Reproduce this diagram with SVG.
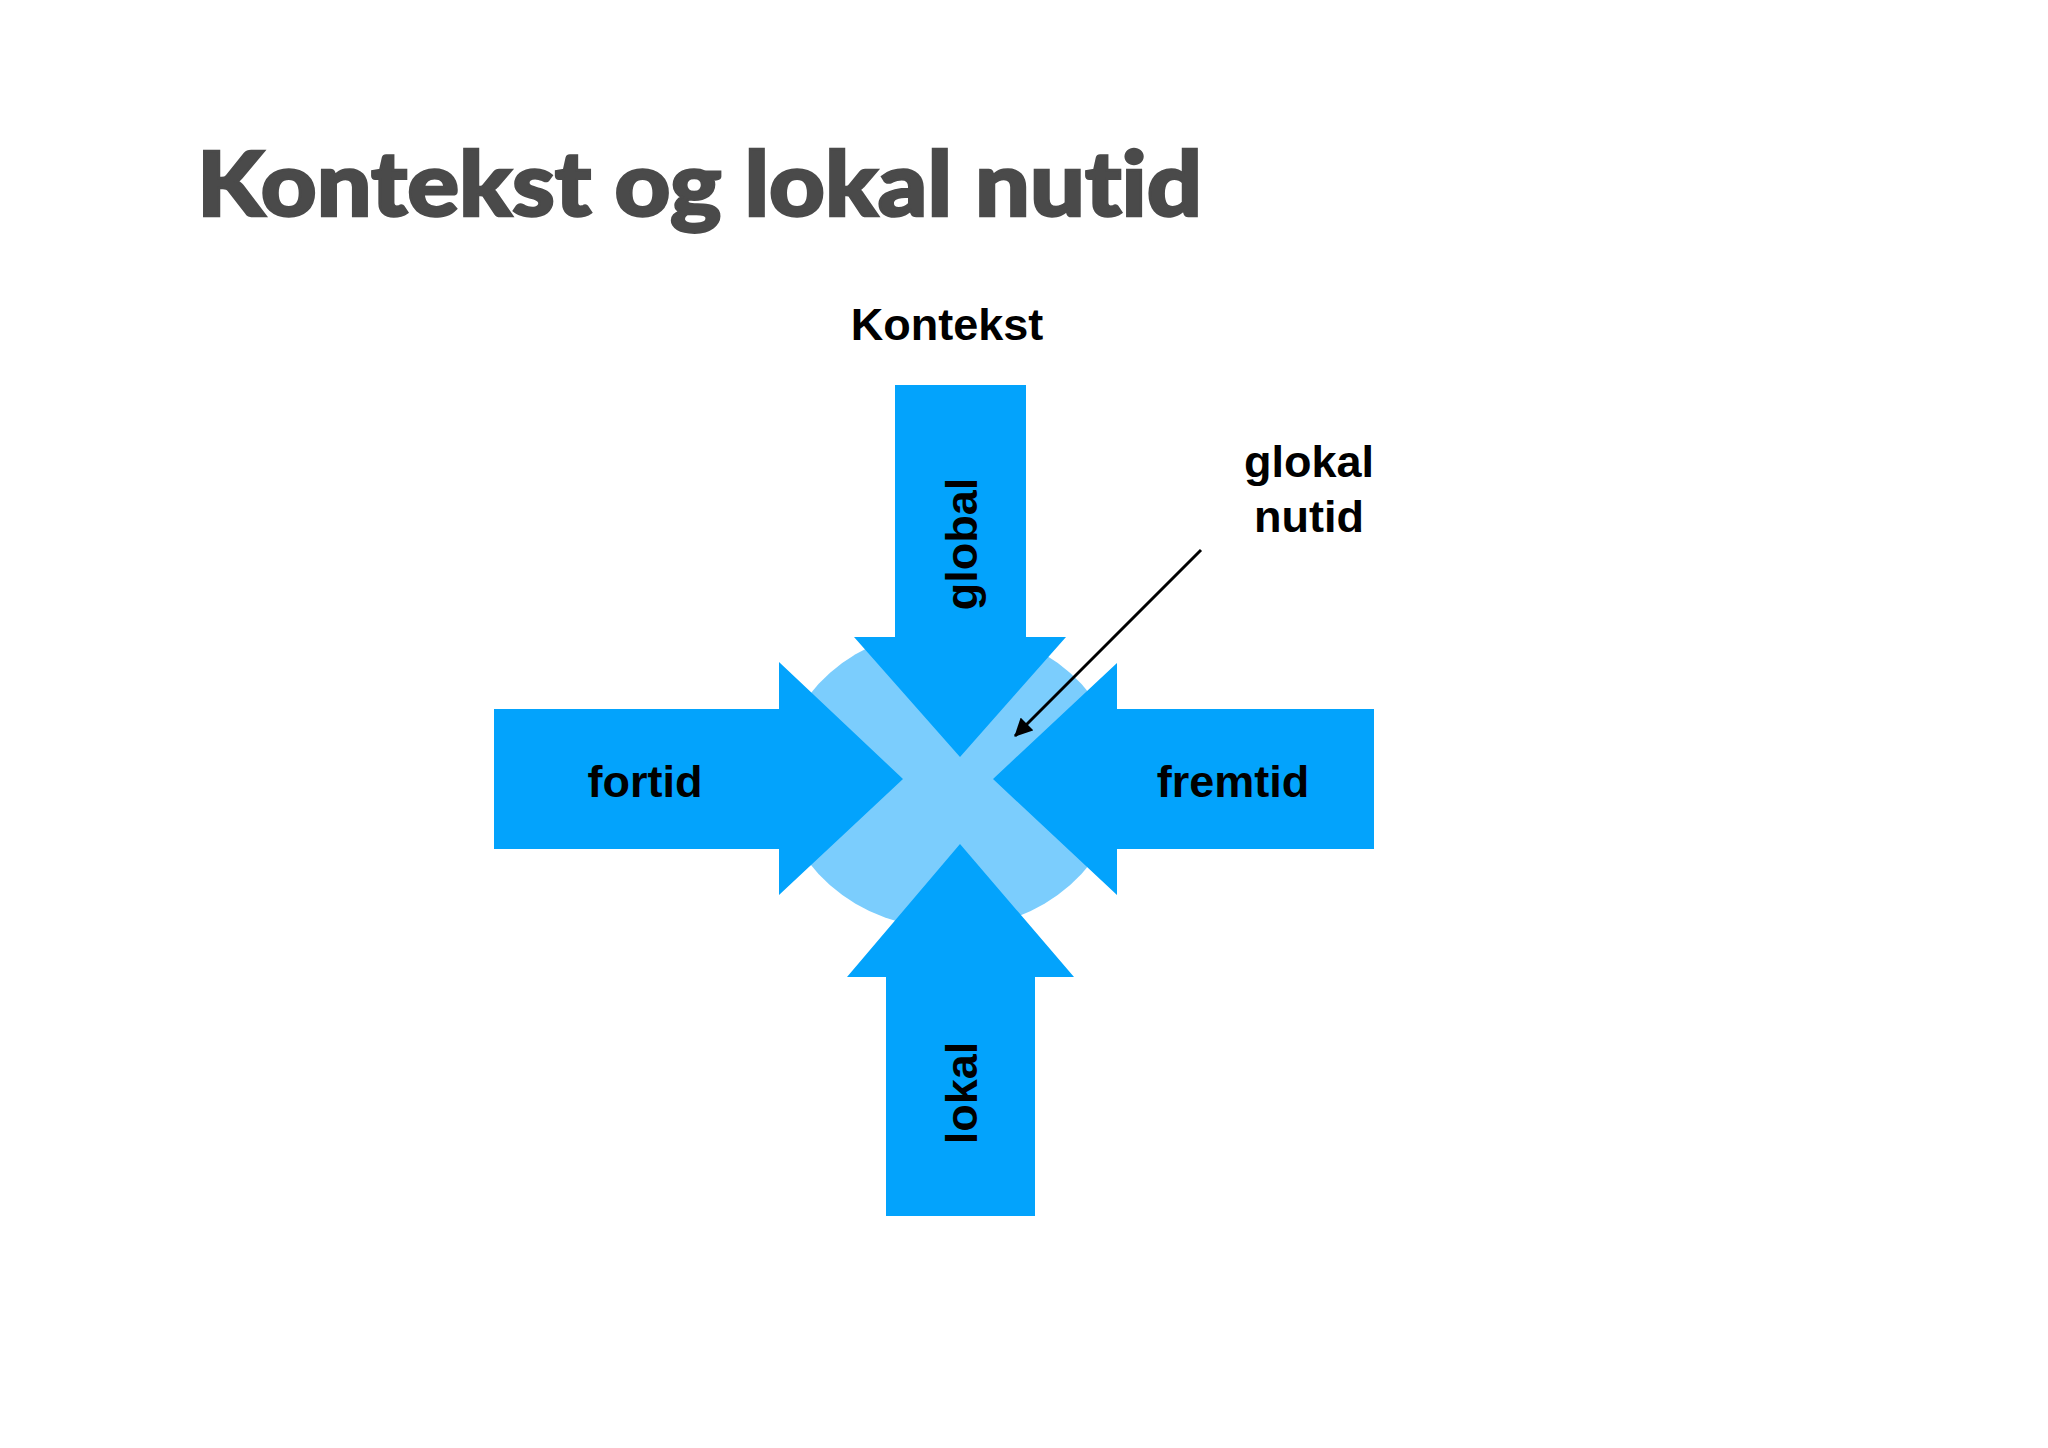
<svg xmlns="http://www.w3.org/2000/svg" width="2048" height="1448" viewBox="0 0 2048 1448">
<style>
.arrow{fill:#03A3FC}
.lbl{font-family:"Liberation Sans",Arial,sans-serif;font-weight:bold;font-size:45px;fill:#000;text-anchor:middle}
.title{font-family:Lato,"Open Sans",sans-serif;font-weight:900;font-size:90px;fill:#4A4A4A;stroke:#4A4A4A;stroke-width:2.5;font-variant-ligatures:none;font-feature-settings:"liga" 0}
</style>
<defs>
<marker id="ah" viewBox="0 0 18 18" refX="17" refY="9" markerWidth="18" markerHeight="18" markerUnits="userSpaceOnUse" orient="auto">
<path d="M0,0 L18,9 L0,18 z" fill="#000"/>
</marker>
</defs>
<rect width="2048" height="1448" fill="#fff"/>
<text class="title" x="197" y="216" textLength="1005" lengthAdjust="spacingAndGlyphs">Kontekst og lokal nutid</text>
<g id="center">
<ellipse cx="950" cy="779" rx="170" ry="150" fill="#7BCDFD"/>
</g>
<g id="global">
<polygon class="arrow" points="895,385 1026,385 1026,637 1066,637 960,757 854,637 895,637"/>
<text class="lbl" transform="translate(977,544) rotate(-90)">global</text>
</g>
<g id="fortid">
<polygon class="arrow" points="494,709 779,709 779,662 903,779 779,895 779,849 494,849"/>
<text class="lbl" x="645" y="797">fortid</text>
</g>
<g id="fremtid">
<polygon class="arrow" points="1374,709 1117,709 1117,663 993,779 1117,895 1117,849 1374,849"/>
<text class="lbl" x="1233" y="797">fremtid</text>
</g>
<g id="lokal">
<polygon class="arrow" points="886,1216 1035,1216 1035,977 1074,977 960,844 847,977 886,977"/>
<text class="lbl" transform="translate(977,1093) rotate(-90)">lokal</text>
</g>
<g id="kontekst">
<text class="lbl" x="947" y="340">Kontekst</text>
</g>
<g id="glokal">
<text class="lbl" x="1309" y="477">glokal</text>
<text class="lbl" x="1309" y="532">nutid</text>
</g>
<g id="connectors">
<line x1="1201" y1="550" x2="1015" y2="736" stroke="#000" stroke-width="3" marker-end="url(#ah)"/>
</g>
</svg>
